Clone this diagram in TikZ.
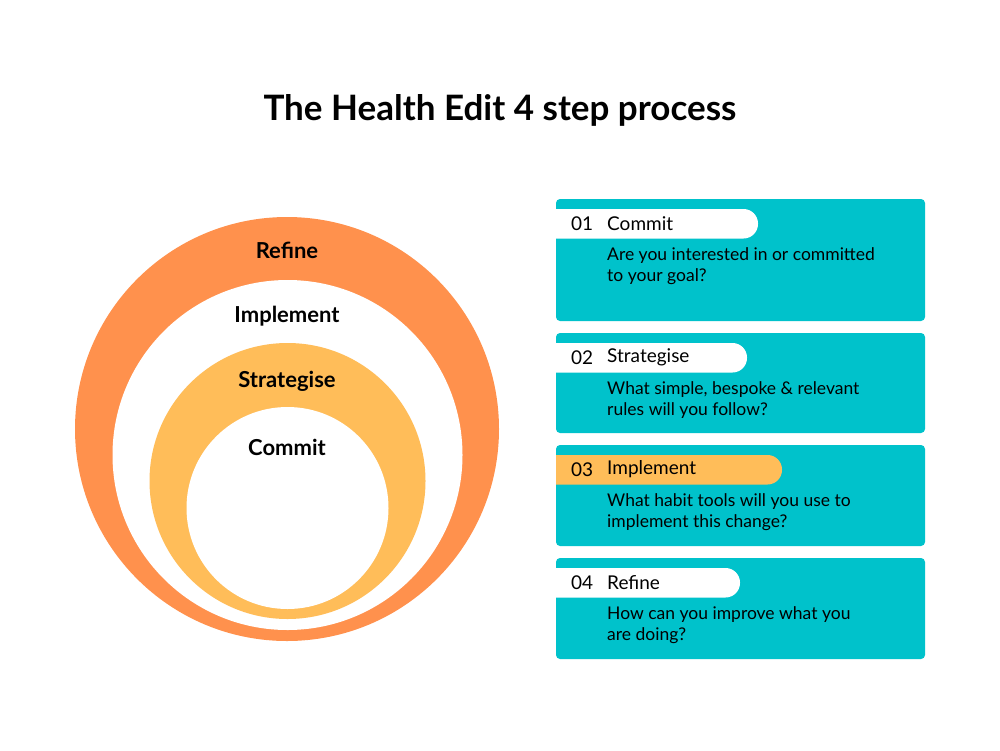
\documentclass[tikz,border=0pt]{standalone}
\usepackage{fontspec}
\setmainfont{Lato}
\definecolor{teal}{HTML}{00C2CB}
\definecolor{ring}{HTML}{FF914D}
\definecolor{gold}{HTML}{FFBD59}
\tikzset{
  ringlabel/.style={font=\fontsize{22}{24}\selectfont\bfseries, text=black},
  tabtext/.style={font=\fontsize{19}{21}\selectfont, anchor=west, inner sep=0pt},
  question/.style={font=\fontsize{17.5}{21.5}\selectfont, anchor=north west, inner sep=0pt, align=left},
}
\begin{document}
\begin{tikzpicture}[x=1pt,y=-1pt]
  % 页面
  \useasboundingbox (0,0) rectangle (1000,750);
  % 标题
  \node (title) at (500,110) {\fontsize{35}{40}\selectfont\bfseries The Health Edit 4 step process};
  % 同心圆
  \fill[ring] (287,429) circle (212);
  \fill[white] (287.5,455) circle (175);
  \fill[gold] (287.5,481) circle (138);
  \fill[white] (287.5,508) circle (101);
  \node[ringlabel] (refine) at (287,250) {Refine};
  \node[ringlabel] (implement) at (287,316) {Implement};
  \node[ringlabel] (strategise) at (287,381) {Strategise};
  \node[ringlabel] (commit) at (287,447) {Commit};
  % 右侧步骤
  \foreach \top/\bot/\tabend/\tabcol/\num/\name/\qa/\qb in {
      199/321/758/white/01/Commit/Are you interested in or committed/to your goal?,
      333/433/747/white/02/Strategise/What simple{,} bespoke \& relevant/rules will you follow?,
      445/546/782/gold/03/Implement/What habit tools will you use to/implement this change?,
      558/659/740/white/04/Refine/How can you improve what you/are doing?}{
    \fill[teal, rounded corners=4] (556,\top) rectangle (925,\bot);
    \fill[\tabcol] (556,\top+10) [rounded corners=14.5] -- (\tabend,\top+10)
      -- (\tabend,\top+39.5) [sharp corners] -- (556,\top+39.5) -- cycle;
    \node[tabtext] (num\num) at (571,\top+24.5) {\num};
    \node[tabtext] (name\num) at (607,\top+24.5) {\name};
    \node[question] (q\num) at (607,\top+48) {\qa\\\qb};
  }
\end{tikzpicture}
\end{document}
